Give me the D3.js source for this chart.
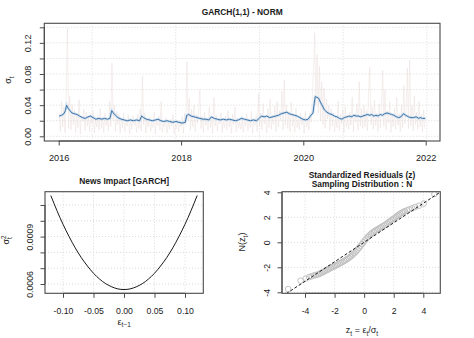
<!DOCTYPE html>
<html>
<head>
<meta charset="utf-8">
<script src="https://cdn.jsdelivr.net/npm/d3@7"></script>
<style>
  body { margin: 0; background: #fff; }
  svg { display: block; }
  text { font-family: "Liberation Sans", Arial, Helvetica, sans-serif; fill: #1a1a1a; }
</style>
</head>
<body>
<svg id="chart" width="474" height="338"></svg>
<script>
// ---------- Panel 1: conditional sigma vs absolute returns ----------
const returnsStart = "2016-01-04";           // weekly observations from this date
const absReturns = [
  0.030,0.006,0.045,0.012,0.038,0.004,0.060,0.139,0.010,0.052,0.008,0.041,0.015,
  0.034,0.005,0.028,0.011,0.047,0.003,0.026,0.019,0.035,0.007,0.031,0.013,0.024,
  0.006,0.029,0.016,0.033,0.004,0.022,0.012,0.027,0.008,0.036,0.010,0.025,0.005,
  0.030,0.014,0.021,0.007,0.045,0.012,0.094,0.020,0.040,0.006,0.032,0.015,0.028,
  0.004,0.024,0.011,0.030,0.006,0.020,0.013,0.027,0.003,0.022,0.009,0.026,0.014,
  0.019,0.005,0.028,0.010,0.035,0.007,0.077,0.015,0.029,0.004,0.021,0.012,0.025,
  0.006,0.018,0.011,0.031,0.003,0.020,0.014,0.026,0.008,0.045,0.005,0.017,0.012,
  0.024,0.004,0.019,0.009,0.022,0.013,0.028,0.003,0.016,0.010,0.021,0.006,0.018,
  0.012,0.025,0.004,0.030,0.015,0.096,0.020,0.048,0.008,0.035,0.012,0.040,0.006,
  0.028,0.017,0.033,0.060,0.010,0.026,0.005,0.031,0.014,0.023,0.008,0.037,0.011,
  0.024,0.004,0.050,0.013,0.027,0.007,0.022,0.016,0.030,0.005,0.019,0.011,0.026,
  0.008,0.033,0.012,0.021,0.004,0.028,0.015,0.038,0.006,0.024,0.010,0.018,0.009,
  0.026,0.005,0.020,0.013,0.029,0.007,0.023,0.011,0.032,0.004,0.019,0.014,0.027,
  0.006,0.055,0.012,0.030,0.008,0.042,0.016,0.025,0.004,0.036,0.011,0.048,0.009,
  0.027,0.015,0.039,0.006,0.045,0.012,0.033,0.020,0.058,0.008,0.072,0.014,0.040,
  0.010,0.031,0.006,0.044,0.013,0.027,0.005,0.036,0.011,0.022,0.008,0.030,0.015,
  0.025,0.004,0.032,0.012,0.021,0.008,0.030,0.018,0.050,0.085,0.133,0.040,0.105,
  0.030,0.090,0.020,0.070,0.015,0.062,0.010,0.048,0.022,0.040,0.008,0.035,0.013,
  0.030,0.006,0.026,0.011,0.045,0.007,0.028,0.016,0.034,0.005,0.038,0.012,0.024,
  0.009,0.031,0.014,0.050,0.006,0.029,0.018,0.042,0.008,0.070,0.013,0.036,0.010,
  0.040,0.012,0.033,0.007,0.055,0.089,0.015,0.038,0.009,0.046,0.014,0.030,0.006,
  0.042,0.011,0.035,0.085,0.013,0.060,0.008,0.032,0.017,0.044,0.005,0.027,0.012,
  0.036,0.009,0.050,0.014,0.029,0.006,0.041,0.011,0.065,0.016,0.033,0.088,0.010,
  0.098,0.013,0.040,0.007,0.052,0.015,0.031,0.009,0.045,0.012,0.028,0.006,0.034,0.010
];
const sigmaDates = [
  "2016-01-04","2016-01-18","2016-02-01","2016-02-10","2016-02-17","2016-02-26","2016-03-08","2016-03-20",
  "2016-04-04","2016-04-20","2016-05-05","2016-05-22","2016-06-08","2016-06-24","2016-07-08","2016-07-25",
  "2016-08-10","2016-08-28","2016-09-14","2016-10-01","2016-10-18","2016-11-02","2016-11-13","2016-11-22",
  "2016-12-05","2016-12-20","2017-01-08","2017-01-26","2017-02-14","2017-03-04","2017-03-22","2017-04-10",
  "2017-04-28","2017-05-11","2017-05-22","2017-06-08","2017-06-26","2017-07-14","2017-08-01","2017-08-16",
  "2017-09-02","2017-09-20","2017-10-08","2017-10-26","2017-11-13","2017-12-01","2017-12-19","2018-01-08",
  "2018-01-26","2018-02-04","2018-02-16","2018-03-02","2018-03-20","2018-04-06","2018-04-24","2018-05-12",
  "2018-05-30","2018-06-16","2018-07-01","2018-07-18","2018-08-05","2018-08-23","2018-09-10","2018-09-28",
  "2018-10-16","2018-11-03","2018-11-21","2018-12-09","2018-12-27","2019-01-14","2019-02-01","2019-02-19",
  "2019-03-09","2019-03-28","2019-04-12","2019-04-26","2019-05-12","2019-05-28","2019-06-14","2019-07-02",
  "2019-07-20","2019-08-06","2019-08-22","2019-09-08","2019-09-24","2019-10-10","2019-10-24","2019-11-10",
  "2019-11-25","2019-12-12","2019-12-28","2020-01-14","2020-01-30","2020-02-12","2020-02-28","2020-03-06",
  "2020-03-12","2020-03-22","2020-04-01","2020-04-12","2020-04-22","2020-05-06","2020-05-21","2020-06-05",
  "2020-06-20","2020-07-05","2020-07-20","2020-08-04","2020-08-18","2020-09-02","2020-09-17","2020-10-02",
  "2020-10-17","2020-10-28","2020-11-12","2020-11-26","2020-12-08","2020-12-22","2021-01-05","2021-01-17",
  "2021-02-01","2021-02-12","2021-02-25","2021-03-10","2021-03-22","2021-04-05","2021-04-18","2021-05-01",
  "2021-05-15","2021-05-30","2021-06-12","2021-06-25","2021-07-10","2021-07-23","2021-08-06","2021-08-21",
  "2021-09-04","2021-09-20","2021-10-05","2021-10-20","2021-11-05","2021-11-20","2021-11-29","2021-12-14",
  "2021-12-30"
];
const sigmaValues = [
  0.026,0.027,0.029,0.033,0.040,0.036,0.033,0.030,
  0.029,0.028,0.026,0.024,0.023,0.025,0.026,0.024,
  0.022,0.023,0.022,0.023,0.022,0.023,0.033,0.030,
  0.027,0.024,0.022,0.021,0.020,0.021,0.020,0.021,
  0.020,0.026,0.024,0.022,0.021,0.020,0.021,0.022,
  0.020,0.019,0.020,0.019,0.018,0.019,0.018,0.017,
  0.018,0.027,0.028,0.026,0.025,0.024,0.023,0.022,
  0.022,0.021,0.025,0.023,0.022,0.021,0.022,0.021,
  0.022,0.021,0.020,0.021,0.023,0.022,0.021,0.020,
  0.021,0.020,0.023,0.026,0.025,0.026,0.024,0.025,
  0.026,0.027,0.029,0.030,0.031,0.029,0.028,0.027,
  0.026,0.024,0.022,0.021,0.022,0.026,0.030,0.042,
  0.051,0.050,0.049,0.044,0.040,0.034,0.031,0.029,
  0.028,0.026,0.025,0.023,0.022,0.024,0.025,0.026,
  0.025,0.027,0.026,0.026,0.025,0.026,0.027,0.028,
  0.027,0.028,0.026,0.027,0.026,0.028,0.027,0.029,
  0.030,0.029,0.028,0.027,0.025,0.024,0.025,0.029,
  0.027,0.025,0.024,0.024,0.025,0.023,0.024,0.023,
  0.023
];
const yearTicks = ["2016-01-01","2018-01-01","2020-01-01","2022-01-01"];
const yearLabels = ["2016","2018","2020","2022"];
const sigmaTicks = [0, 0.02, 0.04, 0.06, 0.08, 0.10, 0.12, 0.14];
const sigmaTickLabels = ["0.00","","0.04","","0.08","","0.12",""];
const dateGridDays = [17000, 17500, 18000, 18500, 19000];   // days since 1970-01-01

// ---------- Panel 2: news impact curve ----------
const shockValues = [-0.12,-0.11,-0.10,-0.09,-0.08,-0.07,-0.06,-0.05,-0.04,-0.03,-0.02,-0.01,0,
                     0.01,0.02,0.03,0.04,0.05,0.06,0.07,0.08,0.09,0.10,0.11,0.12];
const impactValues = [0.001160,0.001065,0.000978,0.000900,0.000829,0.000767,0.000714,0.000668,0.000631,
                      0.000602,0.000582,0.000569,0.000565,0.000569,0.000582,0.000602,0.000631,0.000668,
                      0.000714,0.000767,0.000829,0.000900,0.000978,0.001065,0.001160];
const shockTicks = [-0.10,-0.05,0,0.05,0.10];
const shockTickLabels = ["-0.10","-0.05","0.00","0.05","0.10"];
const impactTicks = [0.0006,0.0007,0.0008,0.0009,0.0010,0.0011];
const impactTickLabels = ["0.0006","","","0.0009","",""];

// ---------- Panel 3: QQ plot of standardized residuals ----------
const zSample = [-5.14,-4.30,-3.95,-3.72,-3.55,-3.40,-3.28,
  -3.15,-3.05,-2.95,-2.85,-2.75,-2.65,-2.55,-2.45,-2.35,-2.25,-2.15,-2.05,-1.95,-1.85,-1.75,-1.65,
  -1.55,-1.45,-1.35,-1.25,-1.15,-1.05,-0.95,-0.85,-0.75,-0.65,-0.55,-0.45,-0.35,-0.25,-0.15,-0.05,
  0.05,0.15,0.25,0.35,0.45,0.55,0.65,0.75,0.85,0.95,1.05,1.15,1.25,1.35,1.45,1.55,1.65,1.75,
  1.85,1.95,2.05,2.15,2.25,2.35,2.45,2.55,2.65,2.75,
  2.90,3.05,3.25,3.45,3.70,4.03,4.75];
const zTheoretical = [-3.74,-3.07,-2.90,-2.78,-2.72,-2.66,-2.62,
  -2.58,-2.54,-2.48,-2.42,-2.36,-2.30,-2.24,-2.18,-2.11,-2.05,-1.99,-1.94,-1.88,-1.82,-1.75,-1.69,
  -1.63,-1.56,-1.49,-1.42,-1.34,-1.26,-1.17,-1.08,-0.97,-0.86,-0.74,-0.60,-0.45,-0.30,-0.15,0.00,
  0.15,0.30,0.43,0.55,0.66,0.76,0.85,0.93,1.00,1.07,1.14,1.21,1.28,1.35,1.42,1.50,1.60,1.69,
  1.78,1.86,1.94,2.03,2.12,2.21,2.29,2.36,2.43,2.49,
  2.56,2.63,2.72,2.82,2.92,3.10,3.86];
const qqLineIntercept = 0;
const qqLineSlope = 0.78;
const zTicks = [-4,-2,0,2,4];
const zTickLabels = ["-4","-2","0","2","4"];

// ---------- drawing ----------
const svg = d3.select("#chart");
const axisColor = "#4a4a4a";
const gridColor = "#d0d0d0";
const parseDate = d3.utcParse("%Y-%m-%d");

function clipFor(id, b) {
  svg.append("clipPath").attr("id", id).append("rect")
    .attr("x", b.x0).attr("y", b.y0).attr("width", b.x1 - b.x0).attr("height", b.y1 - b.y0);
  return `url(#${id})`;
}

function bottomAxis(scale, ticks, labels, y, fs, labelY) {
  const ax = d3.axisBottom(scale).tickValues(ticks).tickSize(4.5).tickSizeOuter(0)
    .tickFormat((d, i) => labels[i]);
  const g = svg.append("g").attr("transform", `translate(0,${y})`).call(ax)
    .attr("font-family", null).attr("font-size", null);
  g.select(".domain").remove();
  g.append("line").attr("x1", scale(ticks[0])).attr("x2", scale(ticks[ticks.length - 1]))
    .attr("stroke", axisColor).attr("stroke-width", 1);
  g.selectAll(".tick line").attr("stroke", axisColor);
  g.selectAll(".tick text").attr("font-size", fs).attr("y", labelY).attr("dy", "0.35em")
    .attr("fill", "#1a1a1a");
}

function leftAxis(scale, ticks, labels, x, fs, labelX) {
  const ax = d3.axisLeft(scale).tickValues(ticks).tickSize(4.5).tickSizeOuter(0)
    .tickFormat((d, i) => labels[i]);
  const g = svg.append("g").attr("transform", `translate(${x},0)`).call(ax)
    .attr("font-family", null).attr("font-size", null);
  g.select(".domain").remove();
  g.append("line").attr("y1", scale(ticks[0])).attr("y2", scale(ticks[ticks.length - 1]))
    .attr("stroke", axisColor).attr("stroke-width", 1);
  g.selectAll(".tick line").attr("stroke", axisColor);
  g.selectAll(".tick text").attr("font-size", fs)
    .attr("x", 0).attr("dy", "0.35em").attr("text-anchor", "middle")
    .attr("transform", `translate(${-labelX},0) rotate(-90)`).attr("fill", "#1a1a1a");
}

function gridLines(b, xs, ys) {
  const g = svg.append("g").attr("stroke", gridColor).attr("stroke-width", 0.8)
    .attr("stroke-dasharray", "1,2");
  xs.forEach(v => g.append("line").attr("x1", v).attr("x2", v).attr("y1", b.y0).attr("y2", b.y1));
  ys.forEach(v => g.append("line").attr("y1", v).attr("y2", v).attr("x1", b.x0).attr("x2", b.x1));
}

function frame(b) {
  svg.append("rect").attr("x", b.x0).attr("y", b.y0).attr("width", b.x1 - b.x0)
    .attr("height", b.y1 - b.y0).attr("fill", "none").attr("stroke", axisColor).attr("stroke-width", 1.1);
}

function title(lines, cx, cy) {
  lines.forEach((t, i) => svg.append("text").attr("x", cx).attr("y", cy + i * 9.4)
    .attr("dy", "0.35em").attr("text-anchor", "middle").attr("font-size", 8.4)
    .attr("font-weight", "bold").text(t));
}

// ---- Panel 1 ----
{
  const b = { x0: 44.3, x1: 440, y0: 23.3, y1: 141 };
  const x = d3.scaleUtc().domain([parseDate("2016-01-01"), parseDate("2022-01-01")]).range([58.7, 425.7]);
  const y = d3.scaleLinear().domain([0, 0.14]).range([136.3, 27.3]);
  gridLines(b, dateGridDays.map(d => x(new Date(d * 864e5))), sigmaTicks.map(y));

  const clip = clipFor("clip1", b);
  const start = parseDate(returnsStart);
  const retPts = absReturns.map((v, i) => [x(d3.utcDay.offset(start, 7 * i)), y(v)]);
  svg.append("path").attr("clip-path", clip).attr("d", d3.line()(retPts))
    .attr("fill", "none").attr("stroke", "#e9dad7").attr("stroke-width", 0.55).attr("opacity", 0.8);

  const sigPts = sigmaDates.map((d, i) => [x(parseDate(d)), y(sigmaValues[i])]);
  const sigLine = d3.line().curve(d3.curveLinear)(sigPts);
  svg.append("path").attr("clip-path", clip).attr("d", sigLine).attr("fill", "none")
    .attr("stroke", "#b9d3ec").attr("stroke-width", 2.6).attr("opacity", 0.6);
  svg.append("path").attr("clip-path", clip).attr("d", sigLine).attr("fill", "none")
    .attr("stroke", "#3f74a6").attr("stroke-width", 1);

  frame(b);
  bottomAxis(x, yearTicks.map(parseDate), yearLabels, b.y1, 9.2, 17);
  leftAxis(y, sigmaTicks, sigmaTickLabels, b.x0, 9.2, 16.3);
  title(["GARCH(1,1) - NORM"], 242.2, 11.7);
  const yl = svg.append("text").attr("transform", "translate(8,80) rotate(-90)")
    .attr("text-anchor", "middle").attr("dy", "0.35em").attr("font-size", 9);
  yl.append("tspan").text("σ");
  yl.append("tspan").attr("dy", 2.5).attr("font-size", 6.5).text("t");
}

// ---- Panel 2 ----
{
  const b = { x0: 45, x1: 203.3, y0: 191.7, y1: 293.3 };
  const x = d3.scaleLinear().domain([-0.10, 0.10]).range([63, 185]);
  const y = d3.scaleLinear().domain([0.0006, 0.0011]).range([284, 205]);
  gridLines(b, shockTicks.map(x), impactTicks.map(y));
  const clip = clipFor("clip2", b);
  svg.append("path").attr("clip-path", clip)
    .attr("d", d3.line().curve(d3.curveNatural)(shockValues.map((s, i) => [x(s), y(impactValues[i])])))
    .attr("fill", "none").attr("stroke", "#1a1a1a").attr("stroke-width", 1);
  frame(b);
  bottomAxis(x, shockTicks, shockTickLabels, b.y1, 8.7, 17.4);
  leftAxis(y, impactTicks, impactTickLabels, b.x0, 8.7, 15);
  title(["News Impact [GARCH]"], 124.2, 180.7);
  const xl = svg.append("text").attr("x", 124.2).attr("y", 321.5).attr("text-anchor", "middle")
    .attr("dy", "0.35em").attr("font-size", 9);
  xl.append("tspan").text("ε");
  xl.append("tspan").attr("dy", 2.5).attr("font-size", 6.5).text("t−1");
  const yl = svg.append("text").attr("transform", "translate(6,240) rotate(-90)")
    .attr("text-anchor", "middle").attr("dy", "0.35em").attr("font-size", 9);
  yl.append("tspan").text("σ");
  yl.append("tspan").attr("dy", -3).attr("font-size", 6.5).text("2");
  yl.append("tspan").attr("dx", -3.6).attr("dy", 5.5).attr("font-size", 6.5).text("t");
}

// ---- Panel 3 ----
{
  const b = { x0: 282, x1: 440.3, y0: 191.7, y1: 293.3 };
  const x = d3.scaleLinear().domain([-4, 4]).range([305, 423.3]);
  const y = d3.scaleLinear().domain([-4, 4]).range([292.3, 192.3]);
  gridLines(b, zTicks.map(x), zTicks.map(y));
  const clip = clipFor("clip3", b);
  svg.append("g").attr("clip-path", clip).selectAll("circle")
    .data(zSample).join("circle")
    .attr("cx", d => x(d)).attr("cy", (d, i) => y(zTheoretical[i])).attr("r", 2.8)
    .attr("fill", "none").attr("stroke", "#c2c2c2").attr("stroke-width", 1);
  const [d0, d1] = [x.invert(b.x0), x.invert(b.x1)];
  svg.append("line").attr("clip-path", clip)
    .attr("x1", x(d0)).attr("y1", y(qqLineIntercept + qqLineSlope * d0))
    .attr("x2", x(d1)).attr("y2", y(qqLineIntercept + qqLineSlope * d1))
    .attr("stroke", "#1a1a1a").attr("stroke-width", 1).attr("stroke-dasharray", "3,2");
  frame(b);
  bottomAxis(x, zTicks, zTickLabels, b.y1, 8.7, 17.4);
  leftAxis(y, zTicks, zTickLabels, b.x0, 8.7, 15.5);
  title(["Standardized Residuals (z)", "Sampling Distribution : N"], 362, 175);
  const xl = svg.append("text").attr("x", 362).attr("y", 330).attr("text-anchor", "middle")
    .attr("dy", "0.35em").attr("font-size", 9);
  xl.append("tspan").text("z");
  xl.append("tspan").attr("dy", 2.5).attr("font-size", 6.5).text("t");
  xl.append("tspan").attr("dy", -2.5).text(" = ε");
  xl.append("tspan").attr("dy", 2.5).attr("font-size", 6.5).text("t");
  xl.append("tspan").attr("dy", -2.5).text("/σ");
  xl.append("tspan").attr("dy", 2.5).attr("font-size", 6.5).text("t");
  const yl = svg.append("text").attr("transform", "translate(242,242) rotate(-90)")
    .attr("text-anchor", "middle").attr("dy", "0.35em").attr("font-size", 9);
  yl.append("tspan").text("N(z");
  yl.append("tspan").attr("dy", 2.5).attr("font-size", 6.5).text("t");
  yl.append("tspan").attr("dy", -2.5).text(")");
}
</script>
</body>
</html>
